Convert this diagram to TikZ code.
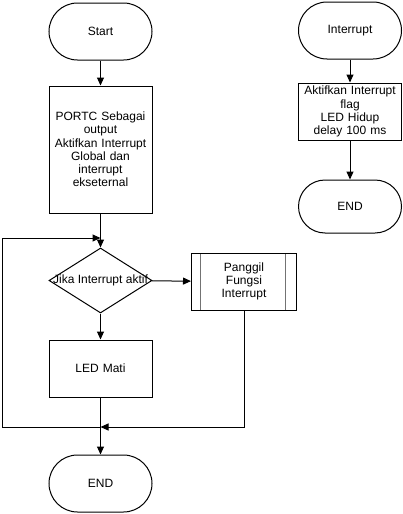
\documentclass[tikz,border=0pt]{standalone}
\usepackage{fontspec}
\setmainfont{Liberation Sans}
\usetikzlibrary{shapes.geometric,shapes.misc,arrows.meta}

\def\boxwidth{103pt}
\colorlet{line edge}{black}
\colorlet{inner edge}{black!55}
\tikzset{
  terminal/.style={rounded rectangle, draw=line edge, minimum width=\boxwidth, minimum height=57pt, inner sep=0pt},
  process/.style={rectangle, draw=line edge, minimum width=\boxwidth, text width=98pt, align=center, inner sep=0pt}
  }
\tikzstyle{decision} = [diamond, draw=line edge, minimum width=\boxwidth, minimum height=65pt, inner sep=0pt]
\tikzstyle{subproc} = [rectangle, draw=line edge, minimum width=105pt, minimum height=57pt, text width=80pt, align=center,
  path picture={\draw[inner edge, line width=1.5pt] ([xshift=9pt]path picture bounding box.north west) -- ([xshift=9pt]path picture bounding box.south west);
                \draw[inner edge, line width=1.5pt] ([xshift=-11pt]path picture bounding box.north east) -- ([xshift=-11pt]path picture bounding box.south east);}]
\tikzstyle{edge} = [draw, line width=1pt, -{Triangle[length=8pt,width=7pt]}]
\tikzstyle{line} = [draw, line width=1pt, -]

\begin{document}
\begin{tikzpicture}[x=1pt, y=1pt, font=\fontsize{12}{13.2}\selectfont, line width=1pt]
   \useasboundingbox (0,0) rectangle (402,-514);

   % main program
   \node[terminal] (start) at (100.5,-31.5) {Start};
   \node[process, minimum height=127pt] (init) at (100.5,-149.5) {PORTC Sebagai\\ output\\ Aktifkan Interrupt\\ Global dan\\ interrupt\\ ekseternal};
   \node[decision, label=center:{Jika Interrupt aktif}] (check) at (100.5,-280.5) {};
   \node[subproc] (call) at (244,-281.5) {Panggil\\ Fungsi\\ Interrupt};
   \node[process, minimum height=57pt] (ledoff) at (100.5,-368.5) {LED Mati};
   \node[terminal] (stop) at (100.5,-483.5) {END};

   \coordinate (join) at (100.5,-427);
   \coordinate (loopleft) at (2,-427);
   \coordinate (loopin) at (100.5,-238);

   % interrupt routine
   \node[terminal] (irq) at (350,-30.5) {Interrupt};
   \node[process, minimum height=57pt] (flag) at (350,-111.5) {Aktifkan Interrupt\\ flag\\ LED Hidup\\ delay 100 ms};
   \node[terminal, minimum height=53pt] (irqend) at (350,-206.5) {END};

   \path[edge] (start) -- (init);
   \path[edge] (init) -- (check);
   \path[edge] (check) -- (call);
   \path[edge] (check) -- (ledoff);
   \path[edge] (ledoff) -- (stop);
   \path[edge] (join) -- (loopleft) |- (loopin);
   \path[edge] (call.south) |- (join);

   \path[edge] (irq) -- (flag);
   \path[edge] (flag) -- (irqend);
\end{tikzpicture}
\end{document}
